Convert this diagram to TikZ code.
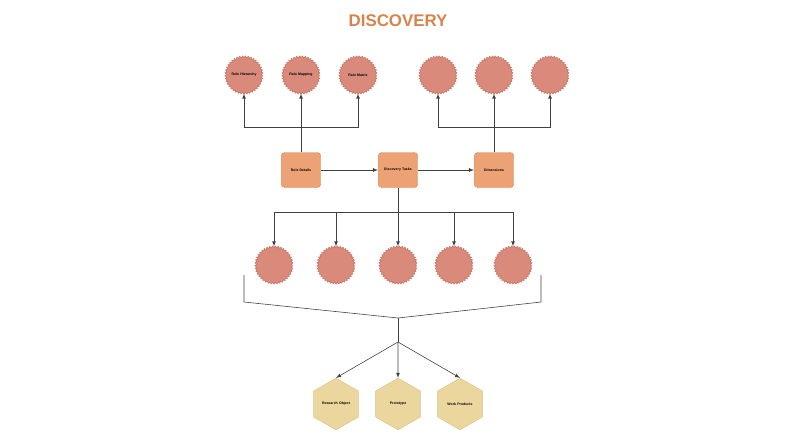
\documentclass[tikz,border=0pt]{standalone}
\usepackage{fontspec}
\setmainfont{Liberation Sans}
\usetikzlibrary{shapes.geometric,decorations.pathmorphing}
\definecolor{seal}{HTML}{D98A7A}
\definecolor{sealline}{HTML}{C8705E}
\definecolor{task}{HTML}{EDA276}
\definecolor{taskline}{HTML}{D98A58}
\definecolor{hex}{HTML}{EBD79E}
\definecolor{hexline}{HTML}{D8C282}
\definecolor{heading}{HTML}{D9834C}
\tikzset{
    seal/.style = {circle,fill=seal,draw=sealline,minimum size=1.1cm,inner sep=0pt,
                   decorate,decoration={zigzag,segment length=2.4pt,amplitude=0.7pt},
                   font=\fontsize{3}{3.5}\selectfont\bfseries,align=center,text width=0.9cm},
    task/.style = {rectangle,rounded corners=3pt,fill=task,draw=taskline,minimum size=1.05cm,
                   font=\fontsize{3}{3.5}\selectfont\bfseries,align=center,text width=0.95cm},
    prod/.style = {regular polygon,regular polygon sides=6,shape border rotate=30,fill=hex,
                   draw=hexline,minimum size=1.55cm,inner sep=0pt,
                   font=\fontsize{3}{3.5}\selectfont\bfseries,align=center,text width=0.9cm},
    link/.style = {draw=black!75,line width=0.5pt},
    >=latex
}
\begin{document}
\begin{tikzpicture}[x=0.03cm,y=-0.03cm]
        \useasboundingbox (0,0) rectangle (794,437);
        \node[font=\Large\bfseries,text=heading] (title) at (398,21) {DISCOVERY};

        %% Tasks
        \node[task]  (roles)  at (301,170) {Role Details};
        \node[task]  (disc)   at (398,170) {Discovery Tasks};
        \node[task]  (bound)  at (494,170) {Dimensions};

        %% Upper seals
        \node[seal]  (u1) at (244,75) {Role Hierarchy};
        \node[seal]  (u2) at (301,75) {Role Mapping};
        \node[seal]  (u3) at (358,75) {Role Matrix};
        \node[seal]  (u4) at (438,75) {};
        \node[seal]  (u5) at (494,75) {};
        \node[seal]  (u6) at (550,75) {};

        %% Lower seals
        \node[seal]  (m1) at (274,265) {};
        \node[seal]  (m2) at (336,265) {};
        \node[seal]  (m3) at (398,265) {};
        \node[seal]  (m4) at (454,265) {};
        \node[seal]  (m5) at (513,265) {};

        %% Products
        \node[prod]  (p1) at (336,404) {Research Object};
        \node[prod]  (p2) at (398,404) {Prototype};
        \node[prod]  (p3) at (460,404) {Work Products};

        \coordinate (lj) at (301,127);
        \coordinate (rj) at (494,127);
        \coordinate (mj) at (398,212);
        \coordinate (bl) at (244,302);
        \coordinate (br) at (541,302);
        \coordinate (bm) at (398,318);
        \coordinate (fan) at (398,342);

        \path[link,->] (roles) -- (disc);
        \path[link,->] (disc) -- (bound);
        \path[link] (roles) -- (lj);
        \path[link] (bound) -- (rj);
        \foreach \n in {u1,u2,u3} \path[link,->] (lj) -| (\n);
        \foreach \n in {u4,u5,u6} \path[link,->] (rj) -| (\n);
        \path[link] (disc) -- (mj);
        \foreach \n in {m1,m2,m3,m4,m5} \path[link,->] (mj) -| (\n);

        \path[link] (244,275) -- (bl) -- (bm) -- (br) -- (541,275);
        \path[link] (bm) -- (fan);
        \foreach \n in {p1,p2,p3} \path[link,->] (fan) -- (\n.north);
\end{tikzpicture}
\end{document}
